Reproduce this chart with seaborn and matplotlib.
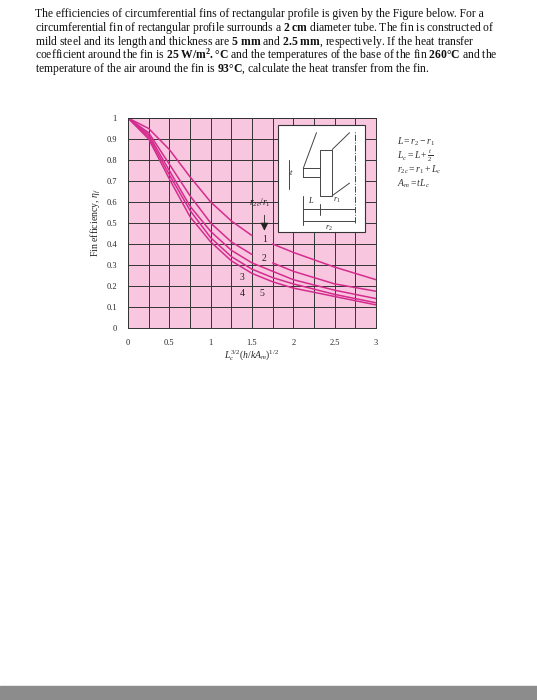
import matplotlib
matplotlib.use("Agg")
import matplotlib.pyplot as plt
import seaborn as sns
import pandas as pd
import numpy as np
from matplotlib.patches import Rectangle

sns.set_theme(style="white")
plt.rcParams['font.family'] = ['Liberation Serif', 'DejaVu Serif']
plt.rcParams['mathtext.fontset'] = 'custom'
plt.rcParams['mathtext.rm'] = 'Liberation Serif'
plt.rcParams['mathtext.it'] = 'Liberation Serif:italic'
plt.rcParams['mathtext.bf'] = 'Liberation Serif:bold'

x_vals = [0, 0.25, 0.5, 0.75, 1.0, 1.25, 1.5, 1.75, 2.0, 2.5, 3.0]
curve1 = [1, 0.95, 0.85, 0.72, 0.60, 0.51, 0.44, 0.40, 0.36, 0.29, 0.23]
curve2 = [1, 0.93, 0.78, 0.63, 0.50, 0.41, 0.35, 0.31, 0.27, 0.21, 0.175]
curve3 = [1, 0.92, 0.75, 0.58, 0.46, 0.37, 0.31, 0.27, 0.23, 0.18, 0.14]
curve4 = [1, 0.91, 0.73, 0.56, 0.43, 0.34, 0.28, 0.24, 0.21, 0.16, 0.12]
curve5 = [1, 0.90, 0.71, 0.53, 0.41, 0.32, 0.26, 0.22, 0.19, 0.15, 0.11]
ratios = ["1", "2", "3", "4", "5"]

fig = plt.figure(figsize=(5.37, 7.0), dpi=100)
fig.patch.set_facecolor("white")
fig.patches.append(Rectangle((0, 0), 1, 14/700, transform=fig.transFigure, color="#8c8c8c", zorder=0))

lines = [
    "The efficiencies of circumferential fins of rectangular profile is given by the Figure below. For a",
    r"circumferential fin of rectangular profile surrounds a $\mathbf{2\ cm}$ diameter tube. The fin is constructed of",
    r"mild steel and its length and thickness are $\mathbf{5\ mm}$ and $\mathbf{2.5\ mm}$, respectively. If the heat transfer",
    r"coefficient around the fin is $\mathbf{25\ W/m^2.°C}$ and the temperatures of the base of the fin $\mathbf{260°C}$ and the",
    r"temperature of the air around the fin is $\mathbf{93°C}$, calculate the heat transfer from the fin.",
]
for i, t in enumerate(lines):
    fig.text(35/537, 1 - (14 + i*13.8)/700, t, fontsize=8.4, va="center", ha="left", color="#111")

ax = fig.add_axes([128/537, 1-328/700, 248/537, 210/700])
ax.set_facecolor("#f8c6df")
pink = "#d42c8e"
for name, ys in zip(ratios, [curve1, curve2, curve3, curve4, curve5]):
    df = pd.DataFrame({"x": x_vals, "y": ys})
    if name in ("1", "2"):
        sns.lineplot(data=df[df.x <= 1.5], x="x", y="y", ax=ax, color=pink, lw=1.1)
        sns.lineplot(data=df[df.x >= 1.75], x="x", y="y", ax=ax, color=pink, lw=1.1)
    else:
        sns.lineplot(data=df, x="x", y="y", ax=ax, color=pink, lw=1.1)

ax.set_xlim(0, 3)
ax.set_ylim(0, 1)
ax.set_xticks(np.arange(0, 3.01, 0.25), minor=True)
ax.set_xticks([0, 0.5, 1, 1.5, 2, 2.5, 3])
ax.set_xticklabels(["0", "0.5", "1", "1.5", "2", "2.5", "3"])
ax.set_yticks(np.arange(0, 1.01, 0.1))
ax.set_yticklabels(["0", "0.1", "0.2", "0.3", "0.4", "0.5", "0.6", "0.7", "0.8", "0.9", "1"])
ax.grid(True, which="both", color="#333", lw=0.7)
ax.tick_params(labelsize=6, pad=2)
for s in ax.spines.values():
    s.set_color("#333"); s.set_linewidth(0.7)
ax.set_xlabel(r"$L_c^{3/2}(h/kA_m)^{1/2}$", fontsize=7, labelpad=1)
ax.set_ylabel(r"Fin efficiency, $\eta_f$", fontsize=7, labelpad=2)

kw = dict(fontsize=7, ha="center", va="center", color="#222")
ax.text(1.65, 0.42, "1", **kw)
ax.text(1.65, 0.33, "2", **kw)
ax.text(1.38, 0.24, "3", **kw)
ax.text(1.38, 0.165, "4", **kw)
ax.text(1.62, 0.165, "5", **kw)
ax.text(1.6, 0.595, r"$r_{2c}/r_1$", **kw)
ax.annotate("", xy=(1.65, 0.45), xytext=(1.65, 0.55), arrowprops=dict(arrowstyle="-|>", color="#222", lw=0.6))

# inset drawing
ax.add_patch(Rectangle((1.82, 0.455), 1.05, 0.51, facecolor="white", edgecolor="#333", lw=0.8, zorder=5))
g = dict(color="#444", lw=0.7, zorder=6)
ax.plot([2.12, 2.32, 2.32, 2.47, 2.47, 2.32, 2.32, 2.12, 2.12], [0.72, 0.72, 0.85, 0.85, 0.63, 0.63, 0.76, 0.76, 0.72], **g)
ax.plot([2.12, 2.28], [0.76, 0.93], **g)
ax.plot([2.47, 2.68], [0.85, 0.93], **g)
ax.plot([2.47, 2.68], [0.63, 0.69], **g)
ax.plot([2.75, 2.75], [0.5, 0.94], color="#444", lw=0.7, ls="-.", zorder=6)
ax.plot([1.95, 1.95], [0.66, 0.8], **g)
ax.text(1.98, 0.74, r"$t$", fontsize=6, ha="center", va="center", zorder=7)
ax.plot([2.12, 2.75], [0.51, 0.51], **g)
ax.plot([2.12, 2.75], [0.565, 0.565], **g)
ax.plot([2.32, 2.32], [0.54, 0.59], **g)
ax.plot([2.12, 2.12], [0.49, 0.63], **g)
ax.text(2.22, 0.585, r"$L$", fontsize=6, ha="center", va="bottom", zorder=7)
ax.text(2.53, 0.585, r"$r_1$", fontsize=6, ha="center", va="bottom", zorder=7)
ax.text(2.43, 0.475, r"$r_2$", fontsize=6, ha="center", va="center", zorder=7)

fx = 397/537
for i, t in enumerate([r"$L = r_2 - r_1$", r"$L_c = L + \frac{t}{2}$", r"$r_{2c} = r_1 + L_c$", r"$A_m = tL_c$"]):
    fig.text(fx, 1 - (142 + i*14)/700, t, fontsize=7, va="center", ha="left", color="#333")

fig.savefig("out.png", dpi=100)
